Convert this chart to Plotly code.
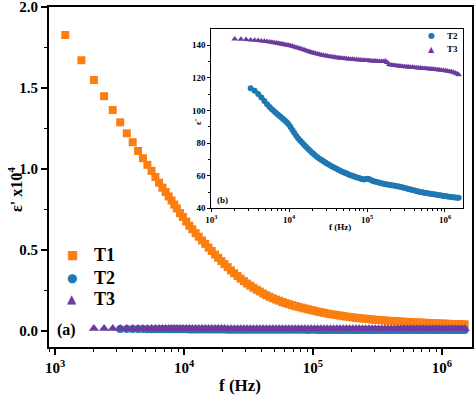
import plotly.graph_objects as go

# ---------------- data ----------------
freq = [1200, 1600, 2000, 2400, 2800, 3200, 3600, 4000, 4400, 4800, 5200, 5600, 6000, 6400, 6800, 7200, 7600, 8000,
        8400, 8800, 9300, 9800, 10400, 11000, 11600, 12300, 13000, 13800,
        14600, 15500, 16400, 17400, 18400, 19500, 20600, 21800, 23100, 24500,
        26000, 27500, 29100, 30800, 32600, 34500, 36600, 38700, 41000, 43400,
        46000, 48700, 51600, 54600, 57800, 61200, 64800, 68600, 72700, 77000,
        81500, 86300, 91400, 96800, 102500, 108500, 115000, 121700, 128900, 136500,
        144600, 153100, 162100, 171700, 181800, 192500, 203900, 215900, 228600, 242100,
        256400, 271500, 287500, 304500, 322400, 341400, 361600, 382900, 405400, 429300,
        454600, 481400, 509800, 539900, 571700, 605400, 641100, 678900, 719000, 761300,
        806200, 853800, 904100, 957400, 1013800, 1073600, 1136900, 1203900, 1274900, 1350000,
        1430000, 1500000]

# T1 : epsilon' x 10^4
t1 = [1.827, 1.671, 1.549, 1.449, 1.364, 1.288, 1.220, 1.165, 1.111, 1.066, 1.025, 0.988, 0.950, 0.915, 0.884, 0.857, 0.830, 0.805,
      0.780, 0.756, 0.727, 0.703, 0.675, 0.649, 0.627, 0.603, 0.581, 0.558,
      0.537, 0.514, 0.493, 0.471, 0.451, 0.431, 0.412, 0.393, 0.373, 0.355,
      0.338, 0.322, 0.307, 0.292, 0.279, 0.266, 0.254, 0.243, 0.231, 0.220,
      0.210, 0.201, 0.193, 0.186, 0.178, 0.171, 0.165, 0.159, 0.153, 0.148,
      0.143, 0.138, 0.133, 0.128, 0.124, 0.119, 0.115, 0.111, 0.107, 0.103,
      0.100, 0.097, 0.094, 0.091, 0.088, 0.085, 0.083, 0.080, 0.078, 0.076,
      0.074, 0.072, 0.070, 0.068, 0.067, 0.065, 0.064, 0.062, 0.061, 0.060,
      0.059, 0.057, 0.056, 0.055, 0.054, 0.053, 0.052, 0.051, 0.050, 0.049,
      0.048, 0.047, 0.046, 0.045, 0.045, 0.044, 0.043, 0.042, 0.042, 0.041,
      0.040, 0.040]

# T2 : epsilon'
t2 = [None, None, None, None, None, 113.6, 112.1, 110.1, 108.0, 105.8, 103.8, 102.2, 100.8, 99.6, 98.4, 97.4, 96.5, 95.6,
      94.7, 93.8, 92.8, 91.6, 89.9, 88.0, 86.3, 84.5, 83.0, 81.6,
      80.3, 79.0, 77.8, 76.6, 75.4, 74.3, 73.3, 72.3, 71.3, 70.4,
      69.6, 68.8, 68.1, 67.4, 66.7, 66.0, 65.3, 64.7, 64.1, 63.5,
      62.9, 62.3, 61.8, 61.3, 60.8, 60.3, 59.9, 59.5, 59.1, 58.7,
      58.3, 57.9, 57.6, 57.9, 58.2, 57.6, 57.0, 56.6, 56.3, 56.0,
      55.6, 55.3, 55.0, 54.8, 54.6, 54.4, 54.2, 54.0, 53.8, 53.6,
      53.3, 53.0, 52.7, 52.4, 52.1, 51.8, 51.5, 51.2, 50.9, 50.6,
      50.3, 50.0, 49.8, 49.6, 49.4, 49.2, 49.0, 48.8, 48.6, 48.4,
      48.2, 48.0, 47.8, 47.6, 47.5, 47.3, 47.1, 46.9, 46.8, 46.6,
      46.5, 46.4]

# T3 : epsilon'
t3 = [None, None, 143.9, 143.7, 143.5, 143.3, 143.1, 142.9, 142.7, 142.5, 142.3, 142.1, 141.9, 141.6, 141.4, 141.2, 141.0, 140.8,
      140.6, 140.4, 140.2, 140.0, 139.7, 139.4, 139.1, 138.7, 138.4, 138.0,
      137.6, 137.2, 136.8, 136.4, 136.0, 135.6, 135.2, 134.9, 134.6, 134.3,
      134.0, 133.8, 133.6, 133.4, 133.2, 133.0, 132.8, 132.6, 132.4, 132.3,
      132.1, 132.0, 131.9, 131.8, 131.6, 131.5, 131.4, 131.3, 131.2, 131.1,
      131.0, 130.9, 130.8, 130.7, 130.6, 130.5, 130.4, 130.3, 130.3, 130.2,
      130.1, 130.1, 130.0, 130.4, 129.5, 128.2, 127.9, 127.7, 127.6, 127.5,
      127.3, 127.2, 127.0, 126.9, 126.8, 126.7, 126.6, 126.5, 126.4, 126.3,
      126.1, 126.0, 125.9, 125.8, 125.7, 125.6, 125.5, 125.4, 125.3, 125.1,
      125.0, 124.8, 124.7, 124.5, 124.4, 124.2, 124.0, 123.7, 123.4, 123.0,
      122.5, 122.0]

series_names = ["T1", "T2", "T3"]
major_ticks = [1e3, 1e4, 1e5, 1e6]
major_text = ["10<sup>3</sup>", "10<sup>4</sup>", "10<sup>5</sup>", "10<sup>6</sup>"]

# ---------------- figure ----------------
W, H = 474, 398
ORANGE = "#FA7F10"
BLUE = "#1F78B2"
PURPLE = "#6B3B9E"
FONT = "Liberation Serif"
SYMFONT = "DejaVu Sans"


def px_x(p):
    return p / W


def px_y(p):
    return 1 - p / H


minor_log = [m * 10 ** e for e in range(2, 7) for m in range(2, 10)]

fig = go.Figure()

scale = 1e4
fig.add_trace(go.Scatter(x=freq, y=t1, mode="markers", name=series_names[0],
                         marker=dict(symbol="square", size=8, color=ORANGE),
                         xaxis="x", yaxis="y"))
fig.add_trace(go.Scatter(x=freq, y=[None if v is None else v / scale for v in t2], mode="markers",
                         name=series_names[1], marker=dict(symbol="circle", size=8, color=BLUE),
                         xaxis="x", yaxis="y"))
fig.add_trace(go.Scatter(x=freq, y=[None if v is None else v / scale for v in t3], mode="markers",
                         name=series_names[2], marker=dict(symbol="triangle-up", size=9, color=PURPLE),
                         xaxis="x", yaxis="y"))

fig.add_trace(go.Scatter(x=freq, y=t2, mode="markers", name=series_names[1],
                         marker=dict(symbol="circle", size=6, color=BLUE),
                         xaxis="x2", yaxis="y2"))
fig.add_trace(go.Scatter(x=freq, y=t3, mode="markers", name=series_names[2],
                         marker=dict(symbol="triangle-up", size=6, color=PURPLE),
                         xaxis="x2", yaxis="y2"))

main_font = dict(family=FONT, size=15, color="black", weight="bold")
inset_font = dict(family=FONT, size=9, color="black", weight="bold")

fig.update_layout(
    width=W, height=H,
    margin=dict(l=0, r=0, t=0, b=0, autoexpand=False),
    paper_bgcolor="white", plot_bgcolor="white",
    showlegend=False,
    xaxis=dict(type="log", range=[2.953, 6.233], domain=[px_x(49), px_x(472)], automargin=False,
               showgrid=False, zeroline=False, showline=True, linecolor="black", linewidth=2, mirror=True,
               ticks="outside", ticklen=6, tickwidth=1.5, tickcolor="black", ticklabeloverflow="allow",
               tickmode="array", tickvals=major_ticks, ticktext=major_text, tickfont=main_font,
               minor=dict(ticks="outside", ticklen=3, tickwidth=1, tickcolor="black", tickvals=minor_log),
               anchor="y"),
    yaxis=dict(range=[-0.1, 2.0], domain=[px_y(347), px_y(7)], automargin=False,
               showgrid=False, zeroline=False, showline=True, linecolor="black", linewidth=2, mirror=True,
               ticks="outside", ticklen=6, tickwidth=1.5, tickcolor="black", ticklabeloverflow="allow",
               tickmode="array", tickvals=[0, 0.5, 1.0, 1.5, 2.0], tickformat=".1f", tickfont=main_font,
               minor=dict(ticks="outside", ticklen=3, tickwidth=1, tickcolor="black",
                          tickvals=[0.25, 0.75, 1.25, 1.75]),
               anchor="x"),
    xaxis2=dict(type="log", range=[3.0, 6.235], domain=[px_x(211.3), px_x(463.3)], automargin=False,
                showgrid=False, zeroline=False, showline=True, linecolor="black", linewidth=1, mirror=True,
                ticks="outside", ticklen=3, tickwidth=1, tickcolor="black", ticklabeloverflow="allow",
                tickmode="array", tickvals=major_ticks, ticktext=major_text, tickfont=inset_font,
                minor=dict(ticks="outside", ticklen=2, tickwidth=0.8, tickcolor="black", tickvals=minor_log),
                anchor="y2"),
    yaxis2=dict(range=[40, 150], domain=[px_y(208.3), px_y(29)], automargin=False,
                showgrid=False, zeroline=False, showline=True, linecolor="black", linewidth=1, mirror=True,
                ticks="outside", ticklen=3, tickwidth=1, tickcolor="black", ticklabeloverflow="allow",
                tickmode="array", tickvals=[40, 60, 80, 100, 120, 140], tickfont=inset_font,
                minor=dict(ticks="outside", ticklen=2, tickwidth=0.8, tickcolor="black",
                           tickvals=[50, 70, 90, 110, 130]),
                anchor="x2"),
)


def note(text, x, y, size, angle=0, family=FONT, color="black", xanchor="center", bold=True):
    fig.add_annotation(text=text, x=px_x(x), y=px_y(y), xref="paper", yref="paper",
                       xanchor=xanchor, yanchor="middle", textangle=angle, showarrow=False,
                       font=dict(family=family, size=size, color=color,
                                 weight="bold" if bold else "normal"))


# axis titles and panel labels
note("f (Hz)", 240, 385, 17)
note("ε' x10<sup>4</sup>", 15, 190, 16, angle=-90)
note("(a)", 66, 330, 16)
note("(b)", 222, 200, 9)
note("f (Hz)", 340, 227, 9)
note("ε'", 198, 122, 9, angle=-90)

# main legend
main_syms = ["■", "●", "▲"]
main_cols = [ORANGE, BLUE, PURPLE]
main_rows = [255, 278, 299]
for s, c, yv, nm in zip(main_syms, main_cols, main_rows, series_names):
    note(s, 72, yv, 12, family=SYMFONT, color=c, bold=False)
    note(nm, 92, yv, 18, xanchor="left")

# inset legend
inset_syms = ["●", "▲"]
inset_cols = [BLUE, PURPLE]
inset_rows = [35.7, 49.3]
for s, c, yv, nm in zip(inset_syms, inset_cols, inset_rows, series_names[1:]):
    note(s, 431.7, yv, 8, family=SYMFONT, color=c, bold=False)
    note(nm, 445, yv, 9, xanchor="left")

fig.write_html("out.html", config={"displayModeBar": False},
               post_script="document.body.style.margin='0px';")
